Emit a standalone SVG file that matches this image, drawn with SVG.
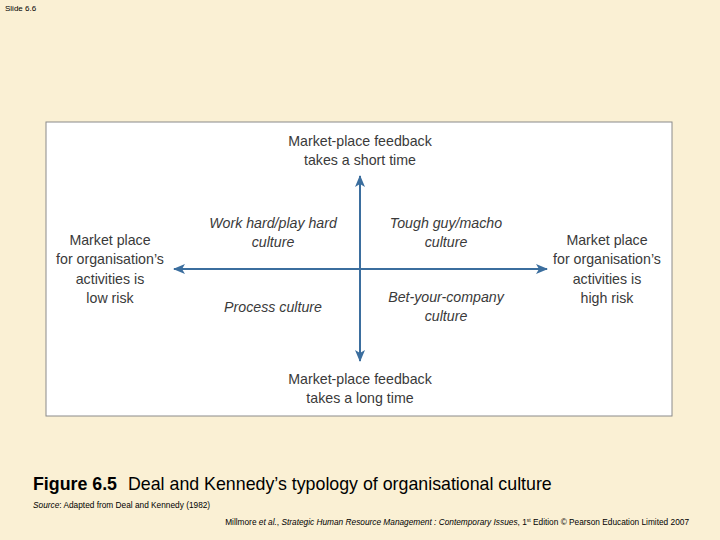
<svg xmlns="http://www.w3.org/2000/svg" width="720" height="540" viewBox="0 0 720 540">
<style>
.t{font-family:"Liberation Sans",Arial,sans-serif;font-size:14.2px;fill:#3a3a3a;text-anchor:middle}
.i{font-style:italic}
.ax{stroke:#3b6e9e;stroke-width:2;fill:none}
</style>
<defs>
<marker id="ah" viewBox="0 0 12 10" refX="11" refY="5" markerWidth="12" markerHeight="10" markerUnits="userSpaceOnUse" orient="auto-start-reverse">
<path d="M0,0 L12,5 L0,10 L3,5 Z" fill="#3b6e9e"/>
</marker>
</defs>
<rect width="720" height="540" fill="#faf0d4"/>
<text x="5" y="11" font-family="Liberation Sans,Arial,sans-serif" font-size="8" fill="#000">Slide 6.6</text>
<rect x="46" y="122" width="626" height="294" fill="#fff" stroke="#8a8a8a" stroke-width="1"/>
<g id="connectors">
<line class="ax" x1="360" y1="176" x2="360" y2="361" marker-start="url(#ah)" marker-end="url(#ah)"/>
<line class="ax" x1="174" y1="269" x2="547" y2="269" marker-start="url(#ah)" marker-end="url(#ah)"/>
</g>
<g id="top"><text class="t" x="360" y="146">Market-place feedback</text><text class="t" x="360" y="165">takes a short time</text></g>
<g id="bottom"><text class="t" x="360" y="384">Market-place feedback</text><text class="t" x="360" y="403">takes a long time</text></g>
<g id="left"><text class="t" x="110" y="245">Market place</text><text class="t" x="110" y="264">for organisation’s</text><text class="t" x="110" y="284">activities is</text><text class="t" x="110" y="303">low risk</text></g>
<g id="right"><text class="t" x="607" y="245">Market place</text><text class="t" x="607" y="264">for organisation’s</text><text class="t" x="607" y="284">activities is</text><text class="t" x="607" y="303">high risk</text></g>
<g id="q1"><text class="t i" x="273" y="228">Work hard/play hard</text><text class="t i" x="273" y="247">culture</text></g>
<g id="q2"><text class="t i" x="446" y="228">Tough guy/macho</text><text class="t i" x="446" y="247">culture</text></g>
<g id="q3"><text class="t i" x="273" y="312">Process culture</text></g>
<g id="q4"><text class="t i" x="446" y="302">Bet-your-company</text><text class="t i" x="446" y="321">culture</text></g>
<text x="33" y="490" font-family="Liberation Sans,Arial,sans-serif" font-size="17.8" fill="#000"><tspan font-weight="bold">Figure 6.5</tspan><tspan x="128">Deal and Kennedy’s typology of organisational culture</tspan></text>
<text x="33" y="508" font-family="Liberation Sans,Arial,sans-serif" font-size="8.3" fill="#000"><tspan font-style="italic">Source</tspan>: Adapted from Deal and Kennedy (1982)</text>
<text x="689" y="525" text-anchor="end" font-family="Liberation Sans,Arial,sans-serif" font-size="8.3" fill="#000">Millmore <tspan font-style="italic">et al.</tspan>, <tspan font-style="italic">Strategic Human Resource Management : Contemporary Issues</tspan>, 1<tspan font-size="5" dy="-3">st</tspan><tspan dy="3"> Edition © Pearson Education Limited 2007</tspan></text>
</svg>
